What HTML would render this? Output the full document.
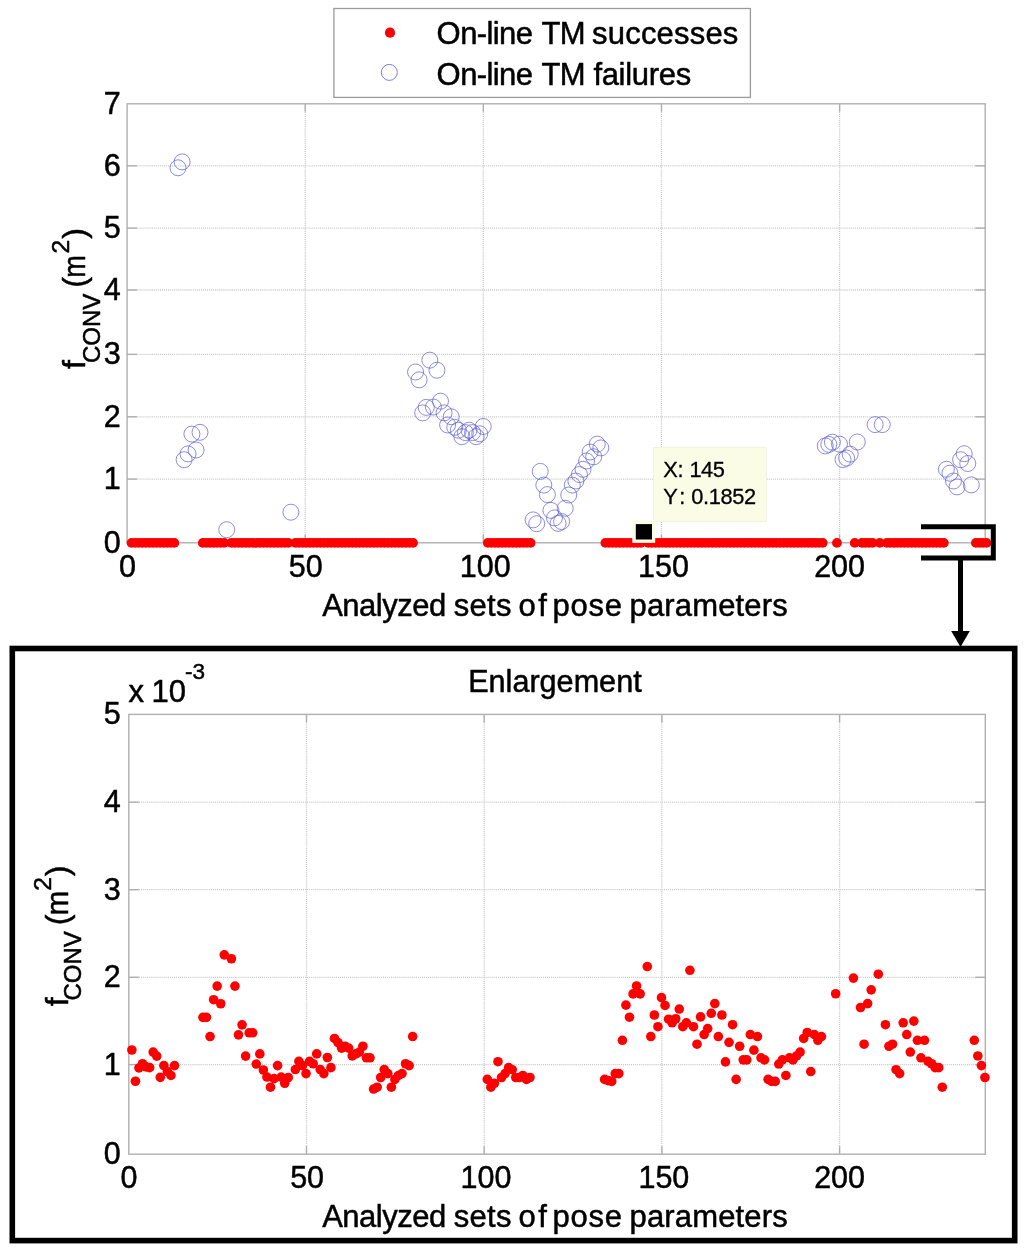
<!DOCTYPE html>
<html lang="en">
<head>
<meta charset="utf-8">
<title>On-line TM successes and failures</title>
<style>html,body{margin:0;padding:0;background:#fff}svg{display:block}text{stroke:#000;stroke-width:0.5px;stroke-linejoin:round}</style>
</head>
<body>
<svg width="1024" height="1254" viewBox="0 0 1024 1254" font-family="'Liberation Sans', Arial, Helvetica, sans-serif">
<rect width="1024" height="1254" fill="#fff"/>
<g stroke="#c6c6c6" stroke-width="1.3" stroke-dasharray="1 1.05" fill="none"><line x1="305.23" y1="103.8" x2="305.23" y2="542.8"/><line x1="483.35" y1="103.8" x2="483.35" y2="542.8"/><line x1="661.48" y1="103.8" x2="661.48" y2="542.8"/><line x1="839.6" y1="103.8" x2="839.6" y2="542.8"/><line x1="127.1" y1="479.1" x2="985.2" y2="479.1"/><line x1="127.1" y1="416.8" x2="985.2" y2="416.8"/><line x1="127.1" y1="354.4" x2="985.2" y2="354.4"/><line x1="127.1" y1="290" x2="985.2" y2="290"/><line x1="127.1" y1="228.1" x2="985.2" y2="228.1"/><line x1="127.1" y1="165.8" x2="985.2" y2="165.8"/></g>
<g stroke="#adadad" stroke-width="1.35" fill="none"><line x1="305.23" y1="542.8" x2="305.23" y2="534.8"/><line x1="305.23" y1="103.8" x2="305.23" y2="111.8"/><line x1="483.35" y1="542.8" x2="483.35" y2="534.8"/><line x1="483.35" y1="103.8" x2="483.35" y2="111.8"/><line x1="661.48" y1="542.8" x2="661.48" y2="534.8"/><line x1="661.48" y1="103.8" x2="661.48" y2="111.8"/><line x1="839.6" y1="542.8" x2="839.6" y2="534.8"/><line x1="839.6" y1="103.8" x2="839.6" y2="111.8"/><line x1="127.1" y1="479.1" x2="137.1" y2="479.1"/><line x1="985.2" y1="479.1" x2="975.2" y2="479.1"/><line x1="127.1" y1="416.8" x2="137.1" y2="416.8"/><line x1="985.2" y1="416.8" x2="975.2" y2="416.8"/><line x1="127.1" y1="354.4" x2="137.1" y2="354.4"/><line x1="985.2" y1="354.4" x2="975.2" y2="354.4"/><line x1="127.1" y1="290" x2="137.1" y2="290"/><line x1="985.2" y1="290" x2="975.2" y2="290"/><line x1="127.1" y1="228.1" x2="137.1" y2="228.1"/><line x1="985.2" y1="228.1" x2="975.2" y2="228.1"/><line x1="127.1" y1="165.8" x2="137.1" y2="165.8"/><line x1="985.2" y1="165.8" x2="975.2" y2="165.8"/></g>
<rect x="127.1" y="103.8" width="858.1" height="439" fill="none" stroke="#b0b0b0" stroke-width="1.4"/>
<g fill="none" stroke="#5c5ccf" stroke-width="0.7"><circle cx="178" cy="167.8" r="8"/><circle cx="182.1" cy="161.9" r="8"/><circle cx="184.1" cy="459.7" r="8"/><circle cx="188" cy="453.9" r="8"/><circle cx="191.9" cy="434.1" r="8"/><circle cx="196.1" cy="450" r="8"/><circle cx="200" cy="432.3" r="8"/><circle cx="226.75" cy="529.7" r="8"/><circle cx="290.88" cy="512.2" r="8"/><circle cx="415.56" cy="371.99" r="8"/><circle cx="419.12" cy="379.84" r="8"/><circle cx="422.69" cy="412.89" r="8"/><circle cx="426.25" cy="407.38" r="8"/><circle cx="429.81" cy="360.16" r="8"/><circle cx="433.38" cy="407.03" r="8"/><circle cx="436.94" cy="370.23" r="8"/><circle cx="440.5" cy="401.17" r="8"/><circle cx="444.06" cy="412.89" r="8"/><circle cx="447.62" cy="424.96" r="8"/><circle cx="451.19" cy="416.76" r="8"/><circle cx="454.75" cy="427.3" r="8"/><circle cx="458.31" cy="430.23" r="8"/><circle cx="461.88" cy="436.68" r="8"/><circle cx="465.44" cy="432.58" r="8"/><circle cx="469" cy="430.23" r="8"/><circle cx="472.56" cy="432.58" r="8"/><circle cx="476.12" cy="436.68" r="8"/><circle cx="479.69" cy="433.75" r="8"/><circle cx="483.25" cy="426.48" r="8"/><circle cx="533.12" cy="519.9" r="8"/><circle cx="536.69" cy="523.7" r="8"/><circle cx="540.25" cy="471.4" r="8"/><circle cx="543.81" cy="485.1" r="8"/><circle cx="547.38" cy="494.6" r="8"/><circle cx="550.94" cy="510.4" r="8"/><circle cx="554.5" cy="517.9" r="8"/><circle cx="558.06" cy="523.4" r="8"/><circle cx="561.62" cy="521.6" r="8"/><circle cx="565.19" cy="508.3" r="8"/><circle cx="568.75" cy="495" r="8"/><circle cx="572.31" cy="485.1" r="8"/><circle cx="575.88" cy="481" r="8"/><circle cx="579.44" cy="474.5" r="8"/><circle cx="583" cy="469.3" r="8"/><circle cx="586.56" cy="461" r="8"/><circle cx="590.12" cy="452" r="8"/><circle cx="593.69" cy="456.8" r="8"/><circle cx="597.25" cy="444.1" r="8"/><circle cx="600.81" cy="447.9" r="8"/><circle cx="825.25" cy="445.9" r="8"/><circle cx="828.81" cy="444.4" r="8"/><circle cx="832.38" cy="442.2" r="8"/><circle cx="839.5" cy="444.1" r="8"/><circle cx="843.06" cy="459.6" r="8"/><circle cx="846.62" cy="458.1" r="8"/><circle cx="850.19" cy="454.2" r="8"/><circle cx="857.31" cy="442" r="8"/><circle cx="875.12" cy="424.6" r="8"/><circle cx="882.25" cy="424.6" r="8"/><circle cx="946.38" cy="469.3" r="8"/><circle cx="949.94" cy="473.2" r="8"/><circle cx="953.5" cy="481" r="8"/><circle cx="957.06" cy="486.9" r="8"/><circle cx="960.62" cy="459.7" r="8"/><circle cx="964.19" cy="453.7" r="8"/><circle cx="967.75" cy="463.5" r="8"/><circle cx="971.31" cy="484.9" r="8"/></g>
<g fill="#ff0000"><circle cx="131.56" cy="542.9" r="4.9"/><circle cx="135.12" cy="542.9" r="4.9"/><circle cx="138.69" cy="542.9" r="4.9"/><circle cx="142.25" cy="542.9" r="4.9"/><circle cx="145.81" cy="542.9" r="4.9"/><circle cx="149.38" cy="542.9" r="4.9"/><circle cx="152.94" cy="542.9" r="4.9"/><circle cx="156.5" cy="542.9" r="4.9"/><circle cx="160.06" cy="542.9" r="4.9"/><circle cx="163.62" cy="542.9" r="4.9"/><circle cx="167.19" cy="542.9" r="4.9"/><circle cx="170.75" cy="542.9" r="4.9"/><circle cx="174.31" cy="542.9" r="4.9"/><circle cx="202.81" cy="542.9" r="4.9"/><circle cx="206.38" cy="542.9" r="4.9"/><circle cx="209.94" cy="542.9" r="4.9"/><circle cx="213.5" cy="542.9" r="4.9"/><circle cx="217.06" cy="542.9" r="4.9"/><circle cx="220.62" cy="542.9" r="4.9"/><circle cx="224.19" cy="542.9" r="4.9"/><circle cx="231.31" cy="542.9" r="4.9"/><circle cx="234.88" cy="542.9" r="4.9"/><circle cx="238.44" cy="542.9" r="4.9"/><circle cx="242" cy="542.9" r="4.9"/><circle cx="245.56" cy="542.9" r="4.9"/><circle cx="249.12" cy="542.9" r="4.9"/><circle cx="252.69" cy="542.9" r="4.9"/><circle cx="256.25" cy="542.9" r="4.9"/><circle cx="259.81" cy="542.9" r="4.9"/><circle cx="263.38" cy="542.9" r="4.9"/><circle cx="266.94" cy="542.9" r="4.9"/><circle cx="270.5" cy="542.9" r="4.9"/><circle cx="274.06" cy="542.9" r="4.9"/><circle cx="277.62" cy="542.9" r="4.9"/><circle cx="281.19" cy="542.9" r="4.9"/><circle cx="284.75" cy="542.9" r="4.9"/><circle cx="288.31" cy="542.9" r="4.9"/><circle cx="295.44" cy="542.9" r="4.9"/><circle cx="299" cy="542.9" r="4.9"/><circle cx="302.56" cy="542.9" r="4.9"/><circle cx="306.12" cy="542.9" r="4.9"/><circle cx="309.69" cy="542.9" r="4.9"/><circle cx="313.25" cy="542.9" r="4.9"/><circle cx="316.81" cy="542.9" r="4.9"/><circle cx="320.38" cy="542.9" r="4.9"/><circle cx="323.94" cy="542.9" r="4.9"/><circle cx="327.5" cy="542.9" r="4.9"/><circle cx="331.06" cy="542.9" r="4.9"/><circle cx="334.62" cy="542.9" r="4.9"/><circle cx="338.19" cy="542.9" r="4.9"/><circle cx="341.75" cy="542.9" r="4.9"/><circle cx="345.31" cy="542.9" r="4.9"/><circle cx="348.88" cy="542.9" r="4.9"/><circle cx="352.44" cy="542.9" r="4.9"/><circle cx="356" cy="542.9" r="4.9"/><circle cx="359.56" cy="542.9" r="4.9"/><circle cx="363.12" cy="542.9" r="4.9"/><circle cx="366.69" cy="542.9" r="4.9"/><circle cx="370.25" cy="542.9" r="4.9"/><circle cx="373.81" cy="542.9" r="4.9"/><circle cx="377.38" cy="542.9" r="4.9"/><circle cx="380.94" cy="542.9" r="4.9"/><circle cx="384.5" cy="542.9" r="4.9"/><circle cx="388.06" cy="542.9" r="4.9"/><circle cx="391.62" cy="542.9" r="4.9"/><circle cx="395.19" cy="542.9" r="4.9"/><circle cx="398.75" cy="542.9" r="4.9"/><circle cx="402.31" cy="542.9" r="4.9"/><circle cx="405.88" cy="542.9" r="4.9"/><circle cx="409.44" cy="542.9" r="4.9"/><circle cx="413" cy="542.9" r="4.9"/><circle cx="487.81" cy="542.9" r="4.9"/><circle cx="491.38" cy="542.9" r="4.9"/><circle cx="494.94" cy="542.9" r="4.9"/><circle cx="498.5" cy="542.9" r="4.9"/><circle cx="502.06" cy="542.9" r="4.9"/><circle cx="505.62" cy="542.9" r="4.9"/><circle cx="509.19" cy="542.9" r="4.9"/><circle cx="512.75" cy="542.9" r="4.9"/><circle cx="516.31" cy="542.9" r="4.9"/><circle cx="519.88" cy="542.9" r="4.9"/><circle cx="523.44" cy="542.9" r="4.9"/><circle cx="527" cy="542.9" r="4.9"/><circle cx="530.56" cy="542.9" r="4.9"/><circle cx="605.38" cy="542.9" r="4.9"/><circle cx="608.94" cy="542.9" r="4.9"/><circle cx="612.5" cy="542.9" r="4.9"/><circle cx="616.06" cy="542.9" r="4.9"/><circle cx="619.62" cy="542.9" r="4.9"/><circle cx="623.19" cy="542.9" r="4.9"/><circle cx="626.75" cy="542.9" r="4.9"/><circle cx="630.31" cy="542.9" r="4.9"/><circle cx="633.88" cy="542.9" r="4.9"/><circle cx="637.44" cy="542.9" r="4.9"/><circle cx="641" cy="542.9" r="4.9"/><circle cx="648.12" cy="542.9" r="4.9"/><circle cx="651.69" cy="542.9" r="4.9"/><circle cx="655.25" cy="542.9" r="4.9"/><circle cx="658.81" cy="542.9" r="4.9"/><circle cx="662.38" cy="542.9" r="4.9"/><circle cx="665.94" cy="542.9" r="4.9"/><circle cx="669.5" cy="542.9" r="4.9"/><circle cx="673.06" cy="542.9" r="4.9"/><circle cx="676.62" cy="542.9" r="4.9"/><circle cx="680.19" cy="542.9" r="4.9"/><circle cx="683.75" cy="542.9" r="4.9"/><circle cx="687.31" cy="542.9" r="4.9"/><circle cx="690.88" cy="542.9" r="4.9"/><circle cx="694.44" cy="542.9" r="4.9"/><circle cx="698" cy="542.9" r="4.9"/><circle cx="701.56" cy="542.9" r="4.9"/><circle cx="705.12" cy="542.9" r="4.9"/><circle cx="708.69" cy="542.9" r="4.9"/><circle cx="712.25" cy="542.9" r="4.9"/><circle cx="715.81" cy="542.9" r="4.9"/><circle cx="719.38" cy="542.9" r="4.9"/><circle cx="722.94" cy="542.9" r="4.9"/><circle cx="726.5" cy="542.9" r="4.9"/><circle cx="730.06" cy="542.9" r="4.9"/><circle cx="733.62" cy="542.9" r="4.9"/><circle cx="737.19" cy="542.9" r="4.9"/><circle cx="740.75" cy="542.9" r="4.9"/><circle cx="744.31" cy="542.9" r="4.9"/><circle cx="747.88" cy="542.9" r="4.9"/><circle cx="751.44" cy="542.9" r="4.9"/><circle cx="755" cy="542.9" r="4.9"/><circle cx="758.56" cy="542.9" r="4.9"/><circle cx="762.12" cy="542.9" r="4.9"/><circle cx="765.69" cy="542.9" r="4.9"/><circle cx="769.25" cy="542.9" r="4.9"/><circle cx="772.81" cy="542.9" r="4.9"/><circle cx="776.38" cy="542.9" r="4.9"/><circle cx="779.94" cy="542.9" r="4.9"/><circle cx="783.5" cy="542.9" r="4.9"/><circle cx="787.06" cy="542.9" r="4.9"/><circle cx="790.62" cy="542.9" r="4.9"/><circle cx="794.19" cy="542.9" r="4.9"/><circle cx="797.75" cy="542.9" r="4.9"/><circle cx="801.31" cy="542.9" r="4.9"/><circle cx="804.88" cy="542.9" r="4.9"/><circle cx="808.44" cy="542.9" r="4.9"/><circle cx="812" cy="542.9" r="4.9"/><circle cx="815.56" cy="542.9" r="4.9"/><circle cx="819.12" cy="542.9" r="4.9"/><circle cx="822.69" cy="542.9" r="4.9"/><circle cx="836.94" cy="542.9" r="4.9"/><circle cx="854.75" cy="542.9" r="4.9"/><circle cx="861.88" cy="542.9" r="4.9"/><circle cx="865.44" cy="542.9" r="4.9"/><circle cx="869" cy="542.9" r="4.9"/><circle cx="872.56" cy="542.9" r="4.9"/><circle cx="879.69" cy="542.9" r="4.9"/><circle cx="886.81" cy="542.9" r="4.9"/><circle cx="890.38" cy="542.9" r="4.9"/><circle cx="893.94" cy="542.9" r="4.9"/><circle cx="897.5" cy="542.9" r="4.9"/><circle cx="901.06" cy="542.9" r="4.9"/><circle cx="904.62" cy="542.9" r="4.9"/><circle cx="908.19" cy="542.9" r="4.9"/><circle cx="911.75" cy="542.9" r="4.9"/><circle cx="915.31" cy="542.9" r="4.9"/><circle cx="918.88" cy="542.9" r="4.9"/><circle cx="922.44" cy="542.9" r="4.9"/><circle cx="926" cy="542.9" r="4.9"/><circle cx="929.56" cy="542.9" r="4.9"/><circle cx="933.12" cy="542.9" r="4.9"/><circle cx="936.69" cy="542.9" r="4.9"/><circle cx="940.25" cy="542.9" r="4.9"/><circle cx="943.81" cy="542.9" r="4.9"/><circle cx="975.88" cy="542.9" r="4.9"/><circle cx="979.44" cy="542.9" r="4.9"/><circle cx="983" cy="542.9" r="4.9"/><circle cx="986.56" cy="542.9" r="4.9"/></g>
<g font-size="30.5" fill="#000"><text x="120.8" y="552.7" text-anchor="end">0</text><text x="120.8" y="489" text-anchor="end">1</text><text x="120.8" y="426.7" text-anchor="end">2</text><text x="120.8" y="364.3" text-anchor="end">3</text><text x="120.8" y="299.9" text-anchor="end">4</text><text x="120.8" y="238" text-anchor="end">5</text><text x="120.8" y="175.7" text-anchor="end">6</text><text x="120.8" y="113.7" text-anchor="end">7</text><text x="127.4" y="577.1" text-anchor="middle">0</text><text x="305.83" y="577.1" text-anchor="middle">50</text><text x="485.15" y="577.1" text-anchor="middle">100</text><text x="663.48" y="577.1" text-anchor="middle">150</text><text x="839.6" y="577.1" text-anchor="middle">200</text></g>
<text y="615.6" font-size="31" fill="#000"><tspan x="322.2" letter-spacing="-0.504">Analyzed</tspan> <tspan x="453.83" letter-spacing="0.235">sets</tspan> <tspan x="518.46" letter-spacing="2.619">of</tspan> <tspan x="552.44" letter-spacing="0.771">pose</tspan> <tspan x="629.54" letter-spacing="0.151">parameters</tspan></text>
<g fill="#000"><text transform="translate(85.3 368.92) rotate(-90)" font-size="32">f</text><text transform="translate(100.3 363.1) rotate(-90)" font-size="24">CONV</text><text transform="translate(85.3 287.82) rotate(-90)" font-size="32">(</text><text transform="translate(85.3 277.73) rotate(-90) scale(0.85 1)" font-size="32">m</text><text transform="translate(68.9 253.43) rotate(-90)" font-size="24.5">2</text><text transform="translate(85.3 238.8) rotate(-90)" font-size="32">)</text></g>
<rect x="653.3" y="447.7" width="113.2" height="73.8" fill="#fbfce6" stroke="#eeeedd" stroke-width="0.8"/>
<text y="476.9" font-size="21.8" fill="#000" style="stroke-width:0.3px"><tspan x="663.31" letter-spacing="-0.296">X:</tspan> <tspan x="689.47" letter-spacing="-0.520">145</tspan></text>
<text y="503.8" font-size="21.8" fill="#000" style="stroke-width:0.3px"><tspan x="663.31" letter-spacing="2.506">Y:</tspan> <tspan x="691.14" letter-spacing="-0.322">0.1852</tspan></text>
<rect x="632.3" y="520.3" width="22.9" height="22.6" fill="#fbfce6"/>
<rect x="635.8" y="524.1" width="16.2" height="15.4" fill="#000"/>
<rect x="333.9" y="8.5" width="416.5" height="88.9" fill="#fff" stroke="#9a9a9a" stroke-width="1.3"/>
<circle cx="390" cy="32.7" r="5.1" fill="#ff0000"/>
<circle cx="389.3" cy="72.4" r="8" fill="none" stroke="#5c5ccf" stroke-width="0.8"/>
<text y="43.75" font-size="31" fill="#000"><tspan x="436.61" letter-spacing="-0.594">On-line</tspan> <tspan x="541.58" letter-spacing="-0.821">TM</tspan> <tspan x="592.12" letter-spacing="0.192">successes</tspan></text>
<text y="84.7" font-size="31" fill="#000"><tspan x="436.61" letter-spacing="-0.594">On-line</tspan> <tspan x="541.58" letter-spacing="-0.821">TM</tspan> <tspan x="593.39" letter-spacing="-0.305">failures</tspan></text>
<path d="M921 526.8 H993.3 V558 H921" fill="none" stroke="#000" stroke-width="5"/>
<path d="M960.5 558 V634" fill="none" stroke="#000" stroke-width="5"/>
<path d="M951.2 631 L969.8 631 L960.5 647 Z" fill="#000"/>
<rect x="12.3" y="648.5" width="1002.4" height="592.1" fill="none" stroke="#000" stroke-width="5.6"/>
<g stroke="#c6c6c6" stroke-width="1.3" stroke-dasharray="1 1.05" fill="none"><line x1="306.5" y1="714.4" x2="306.5" y2="1154.2"/><line x1="484.19" y1="714.4" x2="484.19" y2="1154.2"/><line x1="661.89" y1="714.4" x2="661.89" y2="1154.2"/><line x1="839.59" y1="714.4" x2="839.59" y2="1154.2"/><line x1="128.8" y1="1064.6" x2="985.3" y2="1064.6"/><line x1="128.8" y1="977.3" x2="985.3" y2="977.3"/><line x1="128.8" y1="889.7" x2="985.3" y2="889.7"/><line x1="128.8" y1="802.2" x2="985.3" y2="802.2"/></g>
<g stroke="#adadad" stroke-width="1.35" fill="none"><line x1="306.5" y1="1154.2" x2="306.5" y2="1146.2"/><line x1="306.5" y1="714.4" x2="306.5" y2="722.4"/><line x1="484.19" y1="1154.2" x2="484.19" y2="1146.2"/><line x1="484.19" y1="714.4" x2="484.19" y2="722.4"/><line x1="661.89" y1="1154.2" x2="661.89" y2="1146.2"/><line x1="661.89" y1="714.4" x2="661.89" y2="722.4"/><line x1="839.59" y1="1154.2" x2="839.59" y2="1146.2"/><line x1="839.59" y1="714.4" x2="839.59" y2="722.4"/><line x1="128.8" y1="1064.6" x2="138.8" y2="1064.6"/><line x1="985.3" y1="1064.6" x2="975.3" y2="1064.6"/><line x1="128.8" y1="977.3" x2="138.8" y2="977.3"/><line x1="985.3" y1="977.3" x2="975.3" y2="977.3"/><line x1="128.8" y1="889.7" x2="138.8" y2="889.7"/><line x1="985.3" y1="889.7" x2="975.3" y2="889.7"/><line x1="128.8" y1="802.2" x2="138.8" y2="802.2"/><line x1="985.3" y1="802.2" x2="975.3" y2="802.2"/></g>
<rect x="128.8" y="714.4" width="856.5" height="439.8" fill="none" stroke="#b0b0b0" stroke-width="1.4"/>
<g fill="#ff0000"><circle cx="131.85" cy="1050" r="4.8"/><circle cx="135.41" cy="1081.25" r="4.8"/><circle cx="138.96" cy="1067.97" r="4.8"/><circle cx="142.52" cy="1063.75" r="4.8"/><circle cx="146.07" cy="1066.88" r="4.8"/><circle cx="149.63" cy="1067.66" r="4.8"/><circle cx="153.18" cy="1052.03" r="4.8"/><circle cx="156.74" cy="1056.09" r="4.8"/><circle cx="160.29" cy="1077.34" r="4.8"/><circle cx="163.85" cy="1065.62" r="4.8"/><circle cx="167.4" cy="1071.56" r="4.8"/><circle cx="170.95" cy="1075.47" r="4.8"/><circle cx="174.51" cy="1065.62" r="4.8"/><circle cx="202.94" cy="1017.34" r="4.8"/><circle cx="206.5" cy="1017.34" r="4.8"/><circle cx="210.05" cy="1036.56" r="4.8"/><circle cx="213.61" cy="999.69" r="4.8"/><circle cx="217.16" cy="986.09" r="4.8"/><circle cx="220.72" cy="1003.75" r="4.8"/><circle cx="224.27" cy="954.84" r="4.8"/><circle cx="231.38" cy="958.75" r="4.8"/><circle cx="234.94" cy="986.09" r="4.8"/><circle cx="238.49" cy="1034.84" r="4.8"/><circle cx="242.04" cy="1024.84" r="4.8"/><circle cx="245.6" cy="1056.09" r="4.8"/><circle cx="249.15" cy="1032.81" r="4.8"/><circle cx="252.71" cy="1032.81" r="4.8"/><circle cx="256.26" cy="1064.06" r="4.8"/><circle cx="259.82" cy="1053.91" r="4.8"/><circle cx="263.37" cy="1070" r="4.8"/><circle cx="266.93" cy="1077.03" r="4.8"/><circle cx="270.48" cy="1087.19" r="4.8"/><circle cx="274.03" cy="1078.59" r="4.8"/><circle cx="277.59" cy="1065.62" r="4.8"/><circle cx="281.14" cy="1077.03" r="4.8"/><circle cx="284.7" cy="1083.28" r="4.8"/><circle cx="288.25" cy="1077.5" r="4.8"/><circle cx="295.36" cy="1069.53" r="4.8"/><circle cx="298.92" cy="1061.41" r="4.8"/><circle cx="302.47" cy="1065.62" r="4.8"/><circle cx="306.02" cy="1073.59" r="4.8"/><circle cx="309.58" cy="1061.41" r="4.8"/><circle cx="313.13" cy="1063.75" r="4.8"/><circle cx="316.69" cy="1053.91" r="4.8"/><circle cx="320.24" cy="1069.53" r="4.8"/><circle cx="323.8" cy="1073.59" r="4.8"/><circle cx="327.35" cy="1057.5" r="4.8"/><circle cx="330.91" cy="1067.66" r="4.8"/><circle cx="334.46" cy="1038.44" r="4.8"/><circle cx="338.02" cy="1042.66" r="4.8"/><circle cx="341.57" cy="1048.12" r="4.8"/><circle cx="345.12" cy="1046.25" r="4.8"/><circle cx="348.68" cy="1048.12" r="4.8"/><circle cx="352.23" cy="1055.94" r="4.8"/><circle cx="355.79" cy="1053.91" r="4.8"/><circle cx="359.34" cy="1052.03" r="4.8"/><circle cx="362.9" cy="1046.25" r="4.8"/><circle cx="366.45" cy="1057.81" r="4.8"/><circle cx="370.01" cy="1057.81" r="4.8"/><circle cx="373.56" cy="1089.06" r="4.8"/><circle cx="377.12" cy="1087.19" r="4.8"/><circle cx="380.67" cy="1077.5" r="4.8"/><circle cx="384.22" cy="1069.53" r="4.8"/><circle cx="387.78" cy="1073.59" r="4.8"/><circle cx="391.33" cy="1087.19" r="4.8"/><circle cx="394.89" cy="1079.38" r="4.8"/><circle cx="398.44" cy="1075.47" r="4.8"/><circle cx="402" cy="1073.59" r="4.8"/><circle cx="405.55" cy="1063.75" r="4.8"/><circle cx="409.11" cy="1065.62" r="4.8"/><circle cx="412.66" cy="1036.56" r="4.8"/><circle cx="487.3" cy="1079.38" r="4.8"/><circle cx="490.86" cy="1087.19" r="4.8"/><circle cx="494.41" cy="1083.28" r="4.8"/><circle cx="497.97" cy="1061.72" r="4.8"/><circle cx="501.52" cy="1077.5" r="4.8"/><circle cx="505.08" cy="1073.59" r="4.8"/><circle cx="508.63" cy="1067.66" r="4.8"/><circle cx="512.19" cy="1069.69" r="4.8"/><circle cx="515.74" cy="1077.5" r="4.8"/><circle cx="519.3" cy="1077.5" r="4.8"/><circle cx="522.85" cy="1075.47" r="4.8"/><circle cx="526.4" cy="1079.38" r="4.8"/><circle cx="529.96" cy="1077.5" r="4.8"/><circle cx="604.6" cy="1079.38" r="4.8"/><circle cx="608.16" cy="1080.62" r="4.8"/><circle cx="611.71" cy="1081.41" r="4.8"/><circle cx="615.27" cy="1073.59" r="4.8"/><circle cx="618.82" cy="1073.59" r="4.8"/><circle cx="622.38" cy="1040.31" r="4.8"/><circle cx="625.93" cy="1005.16" r="4.8"/><circle cx="629.48" cy="1017.19" r="4.8"/><circle cx="633.04" cy="993.91" r="4.8"/><circle cx="636.59" cy="985.94" r="4.8"/><circle cx="640.15" cy="993.91" r="4.8"/><circle cx="647.26" cy="966.56" r="4.8"/><circle cx="650.81" cy="1036.56" r="4.8"/><circle cx="654.37" cy="1015" r="4.8"/><circle cx="657.92" cy="1026.72" r="4.8"/><circle cx="661.47" cy="997.66" r="4.8"/><circle cx="665.03" cy="1005.47" r="4.8"/><circle cx="668.58" cy="1019.22" r="4.8"/><circle cx="672.14" cy="1022.81" r="4.8"/><circle cx="675.69" cy="1018.75" r="4.8"/><circle cx="679.25" cy="1009.06" r="4.8"/><circle cx="682.8" cy="1026.72" r="4.8"/><circle cx="686.36" cy="1022.81" r="4.8"/><circle cx="689.91" cy="970.31" r="4.8"/><circle cx="693.47" cy="1026.72" r="4.8"/><circle cx="697.02" cy="1044.22" r="4.8"/><circle cx="700.57" cy="1016.88" r="4.8"/><circle cx="704.13" cy="1034.53" r="4.8"/><circle cx="707.68" cy="1028.59" r="4.8"/><circle cx="711.24" cy="1013.28" r="4.8"/><circle cx="714.79" cy="1003.59" r="4.8"/><circle cx="718.35" cy="1036.56" r="4.8"/><circle cx="721.9" cy="1015" r="4.8"/><circle cx="725.46" cy="1061.88" r="4.8"/><circle cx="729.01" cy="1042.34" r="4.8"/><circle cx="732.57" cy="1024.69" r="4.8"/><circle cx="736.12" cy="1079.38" r="4.8"/><circle cx="739.67" cy="1046.25" r="4.8"/><circle cx="743.23" cy="1059.84" r="4.8"/><circle cx="746.78" cy="1059.84" r="4.8"/><circle cx="750.34" cy="1034.53" r="4.8"/><circle cx="753.89" cy="1050.16" r="4.8"/><circle cx="757.45" cy="1036.56" r="4.8"/><circle cx="761" cy="1057.81" r="4.8"/><circle cx="764.56" cy="1059.84" r="4.8"/><circle cx="768.11" cy="1079.38" r="4.8"/><circle cx="771.66" cy="1081.41" r="4.8"/><circle cx="775.22" cy="1081.41" r="4.8"/><circle cx="778.77" cy="1064.06" r="4.8"/><circle cx="782.33" cy="1059.84" r="4.8"/><circle cx="785.88" cy="1075.47" r="4.8"/><circle cx="789.44" cy="1057.81" r="4.8"/><circle cx="792.99" cy="1059.84" r="4.8"/><circle cx="796.55" cy="1055.94" r="4.8"/><circle cx="800.1" cy="1052.03" r="4.8"/><circle cx="803.65" cy="1038.44" r="4.8"/><circle cx="807.21" cy="1032.5" r="4.8"/><circle cx="810.76" cy="1071.56" r="4.8"/><circle cx="814.32" cy="1034.53" r="4.8"/><circle cx="817.87" cy="1040.31" r="4.8"/><circle cx="821.43" cy="1036.56" r="4.8"/><circle cx="835.65" cy="993.75" r="4.8"/><circle cx="853.42" cy="978.12" r="4.8"/><circle cx="860.53" cy="1007.5" r="4.8"/><circle cx="864.08" cy="1044.22" r="4.8"/><circle cx="867.64" cy="1003.59" r="4.8"/><circle cx="871.19" cy="989.84" r="4.8"/><circle cx="878.3" cy="974.22" r="4.8"/><circle cx="885.41" cy="1024.69" r="4.8"/><circle cx="888.96" cy="1046.25" r="4.8"/><circle cx="892.52" cy="1044.22" r="4.8"/><circle cx="896.07" cy="1069.69" r="4.8"/><circle cx="899.63" cy="1073.59" r="4.8"/><circle cx="903.18" cy="1022.81" r="4.8"/><circle cx="906.74" cy="1034.53" r="4.8"/><circle cx="910.29" cy="1052.03" r="4.8"/><circle cx="913.84" cy="1021.09" r="4.8"/><circle cx="917.4" cy="1040.31" r="4.8"/><circle cx="920.95" cy="1057.81" r="4.8"/><circle cx="924.51" cy="1040.31" r="4.8"/><circle cx="928.06" cy="1061.41" r="4.8"/><circle cx="931.62" cy="1063.75" r="4.8"/><circle cx="935.17" cy="1067.66" r="4.8"/><circle cx="938.73" cy="1067.66" r="4.8"/><circle cx="942.28" cy="1087.19" r="4.8"/><circle cx="974.27" cy="1040.31" r="4.8"/><circle cx="977.83" cy="1055.94" r="4.8"/><circle cx="981.38" cy="1065.62" r="4.8"/><circle cx="984.93" cy="1077.5" r="4.8"/></g>
<g font-size="30.5" fill="#000"><text x="120.7" y="1164.2" text-anchor="end">0</text><text x="120.7" y="1074.6" text-anchor="end">1</text><text x="120.7" y="987.3" text-anchor="end">2</text><text x="120.7" y="899.7" text-anchor="end">3</text><text x="120.7" y="812.2" text-anchor="end">4</text><text x="120.7" y="724.4" text-anchor="end">5</text><text x="129.1" y="1188.2" text-anchor="middle">0</text><text x="307.1" y="1188.2" text-anchor="middle">50</text><text x="485.99" y="1188.2" text-anchor="middle">100</text><text x="663.89" y="1188.2" text-anchor="middle">150</text><text x="839.59" y="1188.2" text-anchor="middle">200</text></g>
<text y="701.6" font-size="31" fill="#000"><tspan x="128.5">x</tspan><tspan x="151.5"> </tspan><tspan x="151.5">10</tspan><tspan font-size="22.5" x="185" y="679.4">-3</tspan></text>
<text x="468.2" y="692.4" font-size="30.6" fill="#000">Enlargement</text>
<text y="1226.7" font-size="31" fill="#000"><tspan x="322.2" letter-spacing="-0.504">Analyzed</tspan> <tspan x="453.83" letter-spacing="0.235">sets</tspan> <tspan x="518.46" letter-spacing="2.619">of</tspan> <tspan x="552.44" letter-spacing="0.771">pose</tspan> <tspan x="629.54" letter-spacing="0.151">parameters</tspan></text>
<g fill="#000"><text transform="translate(67.6 1006.32) rotate(-90)" font-size="32">f</text><text transform="translate(81.4 1000.5) rotate(-90)" font-size="24">CONV</text><text transform="translate(67.6 925.22) rotate(-90)" font-size="32">(</text><text transform="translate(67.6 915.27) rotate(-90) scale(0.92 1)" font-size="32">m</text><text transform="translate(51.2 890.83) rotate(-90)" font-size="24.5">2</text><text transform="translate(67.6 876.2) rotate(-90)" font-size="32">)</text></g>
</svg>
</body>
</html>
